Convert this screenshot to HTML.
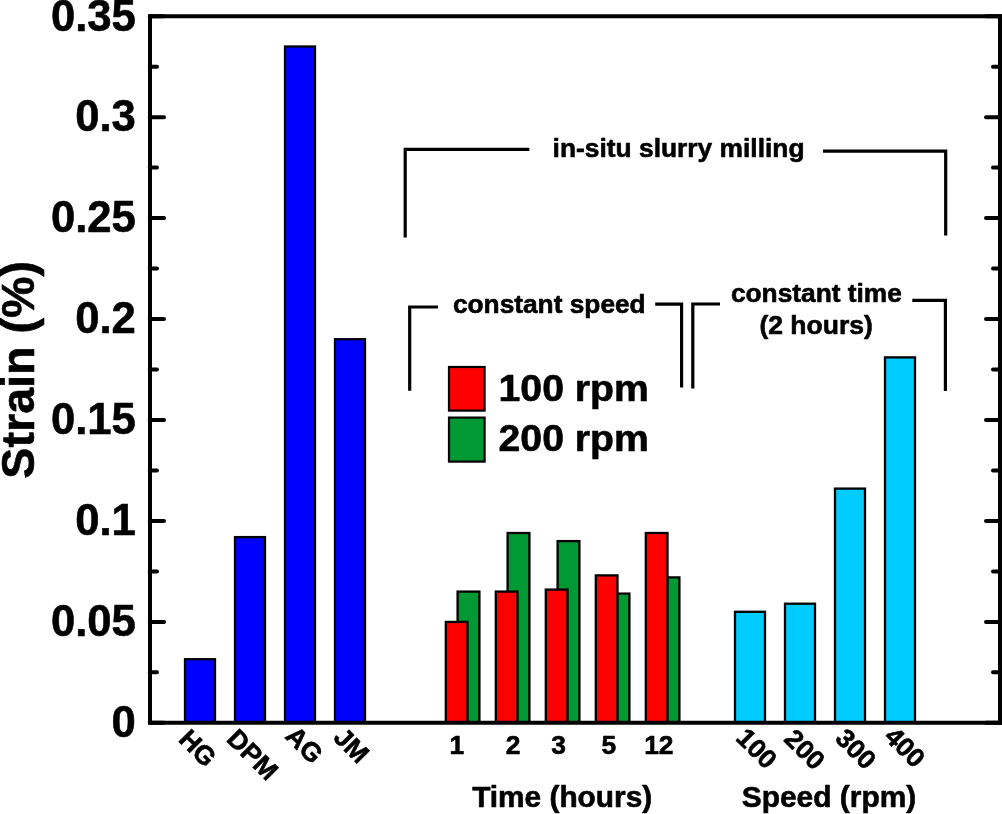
<!DOCTYPE html>
<html><head><meta charset="utf-8"><title>Strain chart</title>
<style>
html,body{margin:0;padding:0;background:#fff;}
body{width:1002px;height:814px;overflow:hidden;}
svg{display:block;}
svg text{font-family:"Liberation Sans",Arial,Helvetica,sans-serif;font-weight:bold;fill:#000;stroke:#000;stroke-width:0.6px;stroke-linejoin:round;}
</style></head><body>
<svg width="1002" height="814" viewBox="0 0 1002 814">
<rect x="0" y="0" width="1002" height="814" fill="#fff"/>
<g id="blue">
<rect x="185.0" y="659.2" width="30.0" height="63.6" fill="#0000ff" stroke="#000" stroke-width="2.3"/>
<rect x="235.0" y="537.1" width="30.0" height="185.7" fill="#0000ff" stroke="#000" stroke-width="2.3"/>
<rect x="285.0" y="46.5" width="30.0" height="676.3" fill="#0000ff" stroke="#000" stroke-width="2.3"/>
<rect x="335.0" y="339.2" width="30.0" height="383.6" fill="#0000ff" stroke="#000" stroke-width="2.3"/>
</g>
<g id="green">
<rect x="457.6" y="591.6" width="21.8" height="131.2" fill="#009933" stroke="#000" stroke-width="2.3"/>
<rect x="507.6" y="533.0" width="21.8" height="189.8" fill="#009933" stroke="#000" stroke-width="2.3"/>
<rect x="557.6" y="541.1" width="21.8" height="181.7" fill="#009933" stroke="#000" stroke-width="2.3"/>
<rect x="607.6" y="593.6" width="21.8" height="129.2" fill="#009933" stroke="#000" stroke-width="2.3"/>
<rect x="657.6" y="577.4" width="21.8" height="145.4" fill="#009933" stroke="#000" stroke-width="2.3"/>
</g>
<g id="red">
<rect x="445.8" y="621.9" width="21.7" height="100.9" fill="#ff0000" stroke="#000" stroke-width="2.3"/>
<rect x="495.8" y="591.6" width="21.7" height="131.2" fill="#ff0000" stroke="#000" stroke-width="2.3"/>
<rect x="545.8" y="589.6" width="21.7" height="133.2" fill="#ff0000" stroke="#000" stroke-width="2.3"/>
<rect x="595.8" y="575.4" width="21.7" height="147.4" fill="#ff0000" stroke="#000" stroke-width="2.3"/>
<rect x="645.8" y="533.0" width="21.7" height="189.8" fill="#ff0000" stroke="#000" stroke-width="2.3"/>
</g>
<g id="cyan">
<rect x="735.0" y="611.8" width="30.0" height="111.0" fill="#00ccff" stroke="#000" stroke-width="2.3"/>
<rect x="785.0" y="603.7" width="30.0" height="119.1" fill="#00ccff" stroke="#000" stroke-width="2.3"/>
<rect x="835.0" y="488.6" width="30.0" height="234.2" fill="#00ccff" stroke="#000" stroke-width="2.3"/>
<rect x="885.0" y="357.4" width="30.0" height="365.4" fill="#00ccff" stroke="#000" stroke-width="2.3"/>
</g>
<g id="frame" stroke="#000" stroke-width="4" fill="none">
<path d="M150 16.2 H1002 M150 722.8 H1002" />
<path d="M150 14.2 V724.8 M1000 14.2 V724.8" />
</g>
<g id="ticks" stroke="#000" stroke-width="4" stroke-linecap="round">
<path d="M149.7 722.8 H164 M986 722.8 H1000"/>
<path d="M149.7 672.3 H157 M993 672.3 H1000"/>
<path d="M149.7 621.9 H164 M986 621.9 H1000"/>
<path d="M149.7 571.4 H157 M993 571.4 H1000"/>
<path d="M149.7 520.9 H164 M986 520.9 H1000"/>
<path d="M149.7 470.4 H157 M993 470.4 H1000"/>
<path d="M149.7 420.0 H164 M986 420.0 H1000"/>
<path d="M149.7 369.5 H157 M993 369.5 H1000"/>
<path d="M149.7 319.0 H164 M986 319.0 H1000"/>
<path d="M149.7 268.6 H157 M993 268.6 H1000"/>
<path d="M149.7 218.1 H164 M986 218.1 H1000"/>
<path d="M149.7 167.6 H157 M993 167.6 H1000"/>
<path d="M149.7 117.2 H164 M986 117.2 H1000"/>
<path d="M149.7 66.7 H157 M993 66.7 H1000"/>
<path d="M149.7 16.2 H164 M986 16.2 H1000"/>
</g>
<g id="ylabels">
<text transform="translate(135.80 737.10) scale(1.0030 1)" font-size="43.5" text-anchor="end">0</text>
<text transform="translate(135.80 636.16) scale(1.0030 1)" font-size="43.5" text-anchor="end">0.05</text>
<text transform="translate(135.80 535.22) scale(1.0030 1)" font-size="43.5" text-anchor="end">0.1</text>
<text transform="translate(135.80 434.28) scale(1.0030 1)" font-size="43.5" text-anchor="end">0.15</text>
<text transform="translate(135.80 333.34) scale(1.0030 1)" font-size="43.5" text-anchor="end">0.2</text>
<text transform="translate(135.80 232.40) scale(1.0030 1)" font-size="43.5" text-anchor="end">0.25</text>
<text transform="translate(135.80 131.46) scale(1.0030 1)" font-size="43.5" text-anchor="end">0.3</text>
<text transform="translate(135.80 30.52) scale(1.0030 1)" font-size="43.5" text-anchor="end">0.35</text>
</g>
<text transform="translate(33.90 478.70) rotate(-90) scale(1.0104 1)" font-size="46.2">Strain (%)</text>
<g id="brackets" stroke="#000" stroke-width="3.2" fill="none" stroke-linejoin="miter">
<path d="M405.2 237.4 V149.3 H529.3"/>
<path d="M823 151.1 H945.7 V235.4"/>
<path d="M409.7 390.8 V307 H437.9"/>
<path d="M655.2 304.1 H681.6 V387.6"/>
<path d="M692.8 388.6 V304 H720"/>
<path d="M912.3 300.4 H945.4 V391"/>
</g>
<g id="annot">
<text transform="translate(552.60 157.30) scale(0.9989 1)" font-size="26.4">in-situ slurry milling</text>
<text transform="translate(452.94 313.30) scale(0.9959 1)" font-size="26.4">constant speed</text>
<text transform="translate(730.94 302.40) scale(0.9961 1)" font-size="26.4">constant time</text>
<text transform="translate(759.43 333.50) scale(1.0039 1)" font-size="26.4">(2 hours)</text>
</g>
<g id="legend">
<rect x="449" y="367" width="35.6" height="43.6" fill="#ff0000" stroke="#000" stroke-width="2.2"/>
<rect x="449" y="417.6" width="35.6" height="44" fill="#009933" stroke="#000" stroke-width="2.2"/>
<text transform="translate(498.55 401.30) scale(1.0737 1)" font-size="36.5">100 rpm</text>
<text transform="translate(498.51 451.30) scale(1.0746 1)" font-size="36.5">200 rpm</text>
</g>
<g id="xrot">
<text transform="translate(177.38 740.59) rotate(45)" font-size="26.4">HG</text>
<text transform="translate(225.58 740.34) rotate(45)" font-size="26.4">DPM</text>
<text transform="translate(283.93 737.18) rotate(45)" font-size="26.4">AG</text>
<text transform="translate(332.15 738.84) rotate(45)" font-size="26.4">JM</text>
<text transform="translate(734.82 739.25) rotate(45)" font-size="26.4">100</text>
<text transform="translate(782.83 740.28) rotate(45)" font-size="26.4">200</text>
<text transform="translate(833.90 739.84) rotate(45)" font-size="26.4">300</text>
<text transform="translate(883.10 737.93) rotate(45)" font-size="26.4">400</text>
</g>
<g id="xtime">
<text transform="translate(449.40 753.70)" font-size="26.4">1</text>
<text transform="translate(505.63 753.70)" font-size="26.4">2</text>
<text transform="translate(551.34 753.70)" font-size="26.4">3</text>
<text transform="translate(601.53 753.70)" font-size="26.4">5</text>
<text transform="translate(644.13 753.70)" font-size="26.4">12</text>
</g>
<g id="xtitles">
<text transform="translate(472.13 807.30) scale(1.0218 1)" font-size="29.2">Time (hours)</text>
<text transform="translate(741.77 807.30) scale(1.0243 1)" font-size="29.2">Speed (rpm)</text>
</g>
</svg>
</body></html>
